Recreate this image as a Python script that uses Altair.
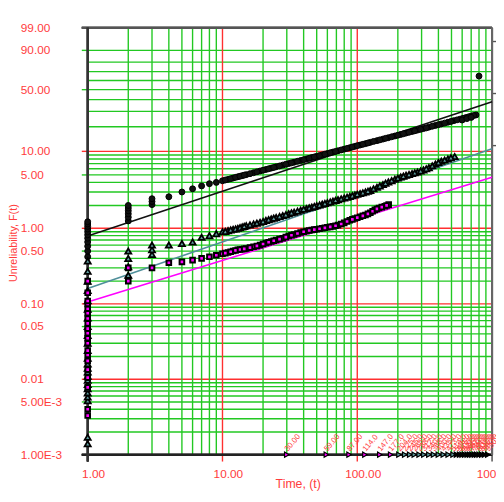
import altair as alt
import numpy as np
import pandas as pd

# ---------------- axis labels ----------------
y_tick_values = [99, 90, 50, 10, 5, 1, 0.5, 0.1, 0.05, 0.01, 0.005, 0.001]
y_tick_labels = ["99.00", "90.00", "50.00", "10.00", "5.00", "1.00", "0.50",
                 "0.10", "0.05", "0.01", "5.00E-3", "1.00E-3"]
x_tick_values = [1, 10, 100, 1000]
x_tick_labels = ["1.00", "10.00", "100.00", "1000.00"]

# ---------------- grid lines ----------------
y_grid_green = [90, 80, 70, 60, 50, 40, 30, 20,
                9, 8, 7, 6, 5, 4, 3, 2,
                0.9, 0.8, 0.7, 0.6, 0.5, 0.4, 0.3, 0.2,
                0.09, 0.08, 0.07, 0.06, 0.05, 0.04, 0.03, 0.02,
                0.009, 0.008, 0.007, 0.006, 0.005, 0.004, 0.003, 0.002]
y_grid_red = [10, 1, 0.1, 0.01]
x_grid_green = [2, 3, 4, 5, 6, 7, 8, 9, 20, 30, 40, 50, 60, 70, 80, 90,
                200, 300, 400, 500, 600, 700, 800, 900]
x_grid_red = [10, 100]
right_ticks = [95.1, 46, 11.8]

# ---------------- data series (time, unreliability %) ----------------
circ_t = [1] * 11 + [2] * 6 + [3] * 3 + [4, 5, 6, 7, 8, 9, 10,
          11, 12, 13, 14, 15, 17, 19, 21, 23, 25, 28, 31, 34, 38, 42, 46, 50,
          55, 60, 66, 72, 80, 88, 96, 105, 115, 125, 140, 155, 170, 190, 210,
          230, 255, 280, 310, 340, 380, 420, 470, 520, 580, 640, 700, 760, 800]
circ_F = [0.42, 0.5, 0.58, 0.66, 0.74, 0.82, 0.9, 0.98, 1.06, 1.14, 1.22,
          1.25, 1.4, 1.55, 1.7, 1.85, 2.0,
          2.05, 2.25, 2.45,
          2.6, 3.0, 3.3, 3.6, 3.85, 4.0, 4.2,
          4.38, 4.56, 4.73, 4.89, 5.04, 5.34, 5.62, 5.88, 6.12, 6.36, 6.69, 7.0,
          7.29, 7.66, 8.01, 8.35, 8.66, 9.04, 9.39, 9.8, 10.17, 10.66, 11.11,
          11.55, 12.0, 12.49, 12.96, 13.6, 14.2, 14.78, 15.5, 16.17, 16.82,
          17.57, 18.27, 19.05, 19.8, 20.75, 21.6, 22.6, 23.6, 24.6, 25.6, 26.6,
          27.4, 65.0]
circ_t2 = [10.5, 11.5, 12.5, 13.5, 14.5, 16, 18, 20, 22, 24, 26.5, 29.5, 32.5,
           36, 40, 44, 48, 52.5, 57.5, 63, 69, 76, 84, 92, 100, 110, 120, 132,
           147, 162, 180, 200, 220, 242, 267, 295, 325, 360, 400, 445, 495,
           550, 610, 670, 730, 600, 650, 700]
circ_F2 = [4.3, 4.47, 4.65, 4.81, 4.97, 5.19, 5.48, 5.75, 6.0, 6.24, 6.52,
           6.85, 7.15, 7.48, 7.84, 8.18, 8.5, 8.85, 9.22, 9.6, 9.99, 10.42,
           10.89, 11.33, 11.78, 12.25, 12.73, 13.3, 13.9, 14.5, 15.15, 15.85,
           16.5, 17.2, 17.9, 18.65, 19.4, 20.3, 21.2, 22.1, 23.1, 24.1, 25.1,
           26.1, 27.0, 24.0, 24.9, 25.7]

tri_t = [1] * 24 + [2] * 4 + [3] * 3 + [4, 5, 6, 7, 8, 9,
         10, 11, 12, 13, 14, 15, 17, 19, 21, 23, 25, 28, 31, 34, 38, 42, 46,
         50, 55, 60, 66, 72, 80, 88, 96, 105, 115, 125, 140, 155, 170, 190,
         210, 230, 255, 280, 310, 340, 380, 420, 470, 528]
tri_F = [0.0014, 0.0017, 0.0052, 0.0058, 0.0066, 0.0075, 0.0085, 0.0097,
         0.011, 0.0125, 0.014, 0.016, 0.019, 0.024, 0.03, 0.038, 0.05, 0.065,
         0.085, 0.11, 0.15, 0.2, 0.27, 0.37,
         0.24, 0.31, 0.4, 0.5,
         0.45, 0.52, 0.6,
         0.6, 0.63, 0.66, 0.76, 0.8, 0.85,
         0.9, 0.93, 0.97, 1.0, 1.04, 1.08, 1.14, 1.2, 1.27, 1.33, 1.39, 1.47,
         1.56, 1.63, 1.73, 1.82, 1.9, 1.98, 2.08, 2.17, 2.28, 2.38, 2.5, 2.62,
         2.74, 2.86, 3.0, 3.15, 3.45, 3.75, 4.05, 4.4, 4.7, 4.95, 5.2, 5.45,
         5.8, 6.2, 6.9, 7.5, 8.0, 8.6]
tri_t2 = [10.5, 11.5, 12.5, 13.5, 14.5, 16, 18, 20, 22, 24, 26.5, 29.5, 32.5,
          36, 40, 44, 48, 52.5, 57.5, 63, 69, 76, 84, 92, 100, 110, 120, 132,
          147, 162, 180, 200, 220, 242, 267, 295, 325, 360, 400, 445, 495]
tri_F2 = [0.91, 0.95, 0.98, 1.02, 1.06, 1.11, 1.17, 1.23, 1.3, 1.36, 1.43,
          1.51, 1.6, 1.68, 1.78, 1.86, 1.94, 2.03, 2.12, 2.22, 2.33, 2.44,
          2.56, 2.68, 2.8, 2.93, 3.07, 3.3, 3.6, 3.9, 4.22, 4.55, 4.82, 5.07,
          5.32, 5.62, 6.0, 6.55, 7.2, 7.75, 8.3]

sq_t = [1] * 20 + [2, 2, 3] + [4, 5, 6, 7, 8, 9, 10, 11, 12, 13, 14, 15, 17,
        19, 21, 23, 25, 28, 31, 34, 38, 42, 46, 50, 55, 60, 66, 72, 80, 88,
        96, 105, 115, 125, 135, 145, 160, 171]
sq_F = [0.0033, 0.004, 0.0078, 0.0105, 0.0134, 0.0175, 0.021, 0.024, 0.03,
        0.035, 0.041, 0.047, 0.055, 0.064, 0.075, 0.086, 0.1, 0.109, 0.14,
        0.2,
        0.2, 0.3, 0.3,
        0.35, 0.36, 0.38, 0.4, 0.42, 0.44, 0.46, 0.48, 0.5, 0.52, 0.53, 0.54,
        0.57, 0.6, 0.64, 0.67, 0.7, 0.74, 0.79, 0.83, 0.88, 0.92, 0.95, 0.97,
        1.0, 1.03, 1.06, 1.1, 1.18, 1.28, 1.35, 1.42, 1.5, 1.6, 1.75, 1.85,
        1.95, 2.05]
sq_t2 = [10.5, 11.5, 12.5, 13.5, 14.5, 16, 18, 20, 22, 24, 26.5, 29.5, 32.5,
         36, 40, 44, 48, 52.5, 57.5, 63, 69, 76, 84, 92, 100, 110, 120, 130,
         140, 152, 165]
sq_F2 = [0.47, 0.49, 0.51, 0.525, 0.535, 0.555, 0.585, 0.62, 0.655, 0.685,
         0.72, 0.765, 0.81, 0.855, 0.9, 0.935, 0.96, 0.985, 1.015, 1.045,
         1.08, 1.14, 1.23, 1.31, 1.38, 1.46, 1.55, 1.68, 1.8, 1.9, 2.0]

# fitted lines: endpoints (t, F%)
fit_series = ["black", "black", "teal", "teal", "mag", "mag"]
fit_t = [1, 1000, 1, 1000, 1, 1000]
fit_F = [0.79, 38.0, 0.16, 10.8, 0.106, 4.65]

# suspensions on the time axis
susp_t = [30, 59, 87, 114, 147, 177, 204, 225, 245, 265, 288, 312, 340, 368,
          400, 435, 473, 514, 545, 575, 600, 627, 655, 682, 710, 741, 770,
          803, 840, 880, 930]
susp_kind = ["m"] * 6 + ["t"] * 12 + ["k"] * 13
susp_label = ["30.00", "59.00", "87.00", "114.0", "147.0", "177.0", "204.0",
              "225.0", "245.0", "265.0", "288.0", "312.0", "340.0", "368.0",
              "400.0", "435.0", "473.0", "514.0", "545.0", "575.0", "600.0",
              "627.0", "655.0", "682.0", "710.0", "741.0", "770.0", "803.0",
              "840.0", "880.0", "930.0"]

# ---------------- styling ----------------
W, H = 411, 434
GREEN = "#22c822"
RED = "#ff3030"
LBL = "#ff3c3c"
FONT = "Liberation Sans"


def wb(p):
    return np.log(-np.log(1 - np.asarray(p, dtype=float) / 100.0))


xs = alt.Scale(type="log", domain=[1, 1000], nice=False)
ys = alt.Scale(domain=[float(wb(0.001)), float(wb(99))], nice=False, zero=False)


def X():
    return alt.X("t:Q", scale=xs, axis=None)


def Y():
    return alt.Y("y:Q", scale=ys, axis=None)


def frame(ts, fs):
    d = pd.DataFrame({"t": ts, "F": fs})
    d["y"] = wb(d["F"])
    return d


hgrid = pd.DataFrame({"F": y_grid_green + y_grid_red,
                      "c": [GREEN] * len(y_grid_green) + [RED] * len(y_grid_red)})
hgrid["y"] = wb(hgrid["F"])
vgrid = pd.DataFrame({"t": x_grid_green + x_grid_red,
                      "c": [GREEN] * len(x_grid_green) + [RED] * len(x_grid_red)})

ytk = pd.DataFrame({"F": y_tick_values, "label": y_tick_labels})
ytk["y"] = wb(ytk["F"])
ytk["c"] = ["#444444", GREEN, GREEN, RED, GREEN, RED, GREEN, RED, GREEN, RED,
            GREEN, "#222222"]
xtk = pd.DataFrame({"t": x_tick_values, "label": x_tick_labels,
                    "c": ["#222222", RED, RED, "#444444"]})
rtk = pd.DataFrame({"F": right_ticks})
rtk["y"] = wb(rtk["F"])

circ = frame(circ_t + circ_t2, circ_F + circ_F2)
tri = frame(tri_t + tri_t2, tri_F + tri_F2)
sq = frame(sq_t + sq_t2, sq_F + sq_F2)
fit = pd.DataFrame({"s": fit_series, "t": fit_t, "F": fit_F})
fit["y"] = wb(fit["F"])
susp = pd.DataFrame({"t": susp_t, "k": susp_kind, "label": susp_label})
susp["fill"] = susp["k"].map({"m": "#ff00ff", "t": "#5f9ea0", "k": "#000000"})

layers = []
layers.append(alt.Chart(hgrid).mark_rule(strokeWidth=1.4).encode(
    y=Y(), color=alt.Color("c:N", scale=None)))
layers.append(alt.Chart(vgrid).mark_rule(strokeWidth=1.4).encode(
    x=X(), color=alt.Color("c:N", scale=None)))
# tick stubs
layers.append(alt.Chart(ytk).mark_rule(strokeWidth=1.4).encode(
    y=Y(), x=alt.value(-6), x2=alt.value(0), color=alt.Color("c:N", scale=None)))
layers.append(alt.Chart(xtk).mark_rule(strokeWidth=1.4).encode(
    x=X(), y=alt.value(H), y2=alt.value(H + 7), color=alt.Color("c:N", scale=None)))
layers.append(alt.Chart(rtk).mark_rule(strokeWidth=1.4, color="#555555").encode(
    y=Y(), x=alt.value(W), x2=alt.value(W + 5)))
# frame
layers.append(alt.Chart(xtk).mark_rule(strokeWidth=2, color="#555555").encode(
    y=alt.value(0), x=alt.value(-6), x2=alt.value(W)))
layers.append(alt.Chart(xtk).mark_rule(strokeWidth=2, color="#222222").encode(
    y=alt.value(H), x=alt.value(-6), x2=alt.value(W)))
layers.append(alt.Chart(xtk).mark_rule(strokeWidth=2, color="#333333").encode(
    x=alt.value(0), y=alt.value(0), y2=alt.value(H + 7)))
layers.append(alt.Chart(xtk).mark_rule(strokeWidth=2, color="#666666").encode(
    x=alt.value(W), y=alt.value(0), y2=alt.value(H)))

# fitted lines
layers.append(alt.Chart(fit).mark_line(strokeWidth=1.6, clip=False).encode(
    x=X(), y=Y(), detail="s:N",
    color=alt.Color("s:N", scale=alt.Scale(domain=["black", "teal", "mag"],
                                           range=["#111111", "#4f8f9a", "#ff00ff"]),
                    legend=None)))

# data points
layers.append(alt.Chart(circ).mark_point(shape="circle", filled=True, size=36,
                                         color="#111111", stroke="#000000",
                                         strokeWidth=1, opacity=1).encode(x=X(), y=Y()))
layers.append(alt.Chart(tri).mark_point(shape="triangle-up", filled=True, size=38,
                                        fill="#5f9ea0", stroke="#000000",
                                        strokeWidth=1.8, opacity=1).encode(x=X(), y=Y()))
layers.append(alt.Chart(sq).mark_point(shape="square", filled=True, size=22,
                                       fill="#ff00ff", stroke="#000000",
                                       strokeWidth=2, opacity=1).encode(x=X(), y=Y()))

# suspensions
layers.append(alt.Chart(susp).mark_text(angle=310, align="left", baseline="middle",
                                        dx=3, dy=-3, fontSize=8, font=FONT,
                                        color=LBL).encode(
    x=X(), y=alt.value(H), text="label:N"))
layers.append(alt.Chart(susp).mark_point(shape="triangle-right", filled=True, size=28,
                                         stroke="#000000", strokeWidth=1.2,
                                         opacity=1).encode(
    x=X(), y=alt.value(H), fill=alt.Fill("fill:N", scale=None)))

# tick labels
layers.append(alt.Chart(ytk).mark_text(align="left", baseline="middle", fontSize=12,
                                       font=FONT, color=LBL).encode(
    y=Y(), x=alt.value(-68), text="label:N"))
layers.append(alt.Chart(xtk).mark_text(align="center", baseline="middle", fontSize=12,
                                       font=FONT, color=LBL, dx=6).encode(
    x=X(), y=alt.value(H + 20), text="label:N"))

# axis titles
layers.append(alt.Chart(pd.DataFrame({"label": ["Time, (t)"]})).mark_text(
    align="center", baseline="middle", fontSize=12.5, font=FONT, color=LBL).encode(
    x=alt.value(214), y=alt.value(H + 30), text="label:N"))
layers.append(alt.Chart(pd.DataFrame({"label": ["Unreliability, F(t)"]})).mark_text(
    align="center", baseline="middle", fontSize=11, font=FONT, color=LBL,
    angle=270).encode(x=alt.value(-75), y=alt.value(219), text="label:N"))

chart = alt.layer(*layers).properties(
    width=W, height=H,
    autosize=alt.AutoSizeParams(type="none"),
    padding={"left": 81, "top": 16, "right": 4, "bottom": 36},
).configure_view(stroke=None).configure(background="white")

chart.save("out.html", embed_options={"renderer": "svg", "actions": False})
